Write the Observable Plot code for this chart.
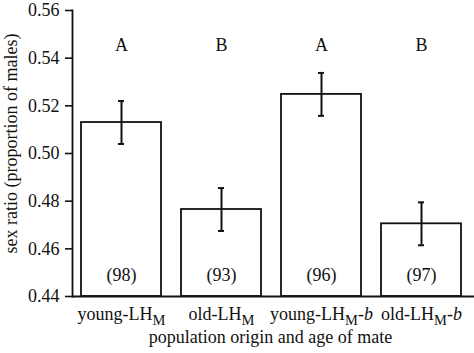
<!DOCTYPE html>
<html><head><meta charset="utf-8">
<script src="https://cdn.jsdelivr.net/npm/d3@7"></script>
<script src="https://cdn.jsdelivr.net/npm/@observablehq/plot@0.6"></script>
<style>body{margin:0;background:#fff} svg text{font-family:'Liberation Serif','Times New Roman',serif !important;}</style>
</head><body><div id="chart"></div>
<script>
const categories = ["young-LH_M", "old-LH_M", "young-LH_M-b", "old-LH_M-b"];
const means = [0.513, 0.4765, 0.5248, 0.4705];
const errors = [0.009, 0.009, 0.009, 0.009];
const groups = ["A", "B", "A", "B"];
const sampleSizes = [98, 93, 96, 97];
const yTicks = [0.44, 0.46, 0.48, 0.50, 0.52, 0.54, 0.56];
const yLabel = "sex ratio (proportion of males)";
const xLabel = "population origin and age of mate";
const baseValue = 0.44;
const groupLabelY = 0.5455;
const countLabelY = 0.449;

const rows = categories.map((c, i) => ({
  cat: c, mean: means[i], lo: means[i] - errors[i], hi: means[i] + errors[i],
  group: groups[i], n: `(${sampleSizes[i]})`
}));

const font = "'Liberation Serif', 'Times New Roman', serif";
const svg = Plot.plot({
  width: 474, height: 353,
  marginLeft: 72, marginRight: 0, marginTop: 10, marginBottom: 57,
  style: {fontFamily: font, fontSize: "18px", color: "#111", background: "#fff"},
  x: {domain: categories, range: [81, 461], paddingInner: 0.2, paddingOuter: 0},
  y: {domain: [0.44, 0.56]},
  marks: [
    Plot.barY(rows, {x: "cat", y1: () => baseValue, y2: "mean", fill: "#fff", stroke: "#111", strokeWidth: 1.8}),
    Plot.ruleX(rows, {x: "cat", y1: "lo", y2: "hi", stroke: "#111", strokeWidth: 2}),
    Plot.tickY(rows, {x: "cat", y: "lo", stroke: "#111", strokeWidth: 2, insetLeft: 37, insetRight: 37}),
    Plot.tickY(rows, {x: "cat", y: "hi", stroke: "#111", strokeWidth: 2, insetLeft: 37, insetRight: 37}),
    Plot.text(rows, {x: "cat", y: () => groupLabelY, text: "group", lineAnchor: "middle", fill: "#111", fontFamily: font}),
    Plot.text(rows, {x: "cat", y: () => countLabelY, text: "n", lineAnchor: "middle", fill: "#111", fontFamily: font}),
    Plot.ruleY([baseValue], {stroke: "#111", strokeWidth: 1.8}),
    Plot.frame({anchor: "left", stroke: "#111", strokeWidth: 1.8}),
    Plot.axisY({ticks: yTicks, tickFormat: d3.format(".2f"), tickSize: 7, tickPadding: 6, label: null, stroke: "#111", strokeWidth: 1.6, fill: "#111", fontFamily: font}),
    Plot.axisX({tickSize: 0, tickPadding: 10.3, label: null, fill: "#111", fontFamily: font}),
    Plot.text([yLabel], {frameAnchor: "left", rotate: -90, dx: -61, dy: -10, textAnchor: "middle", lineAnchor: "middle", fill: "#111", fontFamily: font}),
    Plot.text([xLabel], {frameAnchor: "bottom", dy: 46, dx: -3, textAnchor: "middle", lineAnchor: "bottom", fill: "#111", fontFamily: font})
  ]
});

// subscripts / italics for the x tick labels
svg.querySelectorAll('g[aria-label="x-axis tick label"] text').forEach(t => {
  const label = t.textContent;
  const [head, tail] = label.split("_M");
  if (tail === undefined) return;
  t.textContent = "";
  const ns = "http://www.w3.org/2000/svg";
  const add = (txt, attrs) => {
    const s = document.createElementNS(ns, "tspan");
    for (const k in attrs) s.setAttribute(k, attrs[k]);
    s.textContent = txt; t.appendChild(s); return s;
  };
  add(head, {});
  add("M", {dy: "5", "font-size": "14.5px"});
  if (tail.startsWith("-b")) {
    add("-", {dy: "-5"});
    add("b", {"font-style": "italic"});
  }
});

document.getElementById("chart").appendChild(svg);
</script>
</body></html>
